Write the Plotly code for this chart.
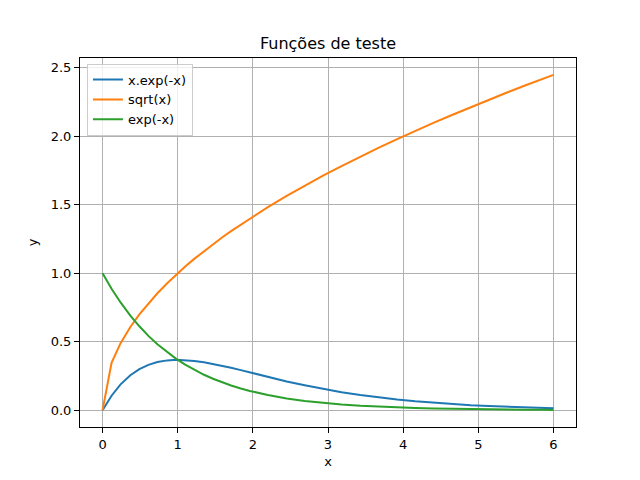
import plotly.graph_objects as go

# Pontos
x = [0, 0.12, 0.24, 0.37, 0.49, 0.61, 0.73, 0.86, 0.98, 1.1, 1.22, 1.35, 1.47, 1.59,
     1.71, 1.84, 1.96, 2.2, 2.45, 2.69, 2.94, 3.18, 3.43, 3.67, 3.92, 4.16, 4.41,
     4.65, 4.9, 5.14, 5.39, 5.63, 5.88, 6.0]
x_exp = [0, 0.106, 0.189, 0.256, 0.30, 0.331, 0.352, 0.364, 0.368, 0.366, 0.36, 0.35,
         0.338, 0.324, 0.31, 0.293, 0.276, 0.244, 0.21, 0.183, 0.156, 0.132, 0.111,
         0.094, 0.078, 0.065, 0.054, 0.045, 0.036, 0.030, 0.025, 0.020, 0.016, 0.015]
raiz = [0, 0.346, 0.49, 0.608, 0.70, 0.781, 0.854, 0.927, 0.99, 1.049, 1.105, 1.162,
        1.212, 1.261, 1.308, 1.356, 1.40, 1.483, 1.565, 1.64, 1.715, 1.783, 1.852,
        1.916, 1.98, 2.04, 2.10, 2.156, 2.214, 2.267, 2.322, 2.373, 2.425, 2.449]
exp_neg = [1.00, 0.887, 0.787, 0.691, 0.613, 0.543, 0.482, 0.423, 0.375, 0.333, 0.295,
           0.259, 0.23, 0.204, 0.181, 0.159, 0.141, 0.111, 0.086, 0.068, 0.053, 0.042,
           0.032, 0.025, 0.020, 0.016, 0.012, 0.0096, 0.0074, 0.0059, 0.0046, 0.0036,
           0.0028, 0.0025]

nomes = ["x.exp(-x)", "sqrt(x)", "exp(-x)"]
cores = ["#1f77b4", "#ff7f0e", "#2ca02c"]

fig = go.Figure()
for nome, ys, cor in zip(nomes, [x_exp, raiz, exp_neg], cores):
    fig.add_trace(go.Scatter(x=x, y=ys, mode="lines", name=nome,
                             line=dict(color=cor, width=2)))

eixo = dict(showline=True, mirror=True, linecolor="black", linewidth=1,
            ticks="outside", ticklen=5, tickcolor="black",
            showgrid=True, gridcolor="#b0b0b0", gridwidth=1, zeroline=False,
            tickfont=dict(size=13, color="black"))

fig.update_layout(
    width=640, height=480,
    margin=dict(l=72, r=72, t=50, b=61),
    paper_bgcolor="white", plot_bgcolor="white",
    font=dict(family="DejaVu Sans", color="black"),
    title=dict(text="Funções de teste", x=0.5, xanchor="center",
               y=0.927, yanchor="middle", font=dict(size=16)),
    legend=dict(x=0.014, y=0.985, xanchor="left", yanchor="top",
                bgcolor="rgba(255,255,255,0.8)", bordercolor="#cccccc", borderwidth=1,
                font=dict(size=13), tracegroupgap=0),
)
fig.update_xaxes(**eixo, range=[-0.3, 6.3], dtick=1,
                 title=dict(text="x", font=dict(size=13), standoff=6))
fig.update_yaxes(**eixo, range=[-0.1225, 2.572], dtick=0.5, tickformat=".1f",
                 title=dict(text="y", font=dict(size=13), standoff=10))

fig.write_html("out.html")
